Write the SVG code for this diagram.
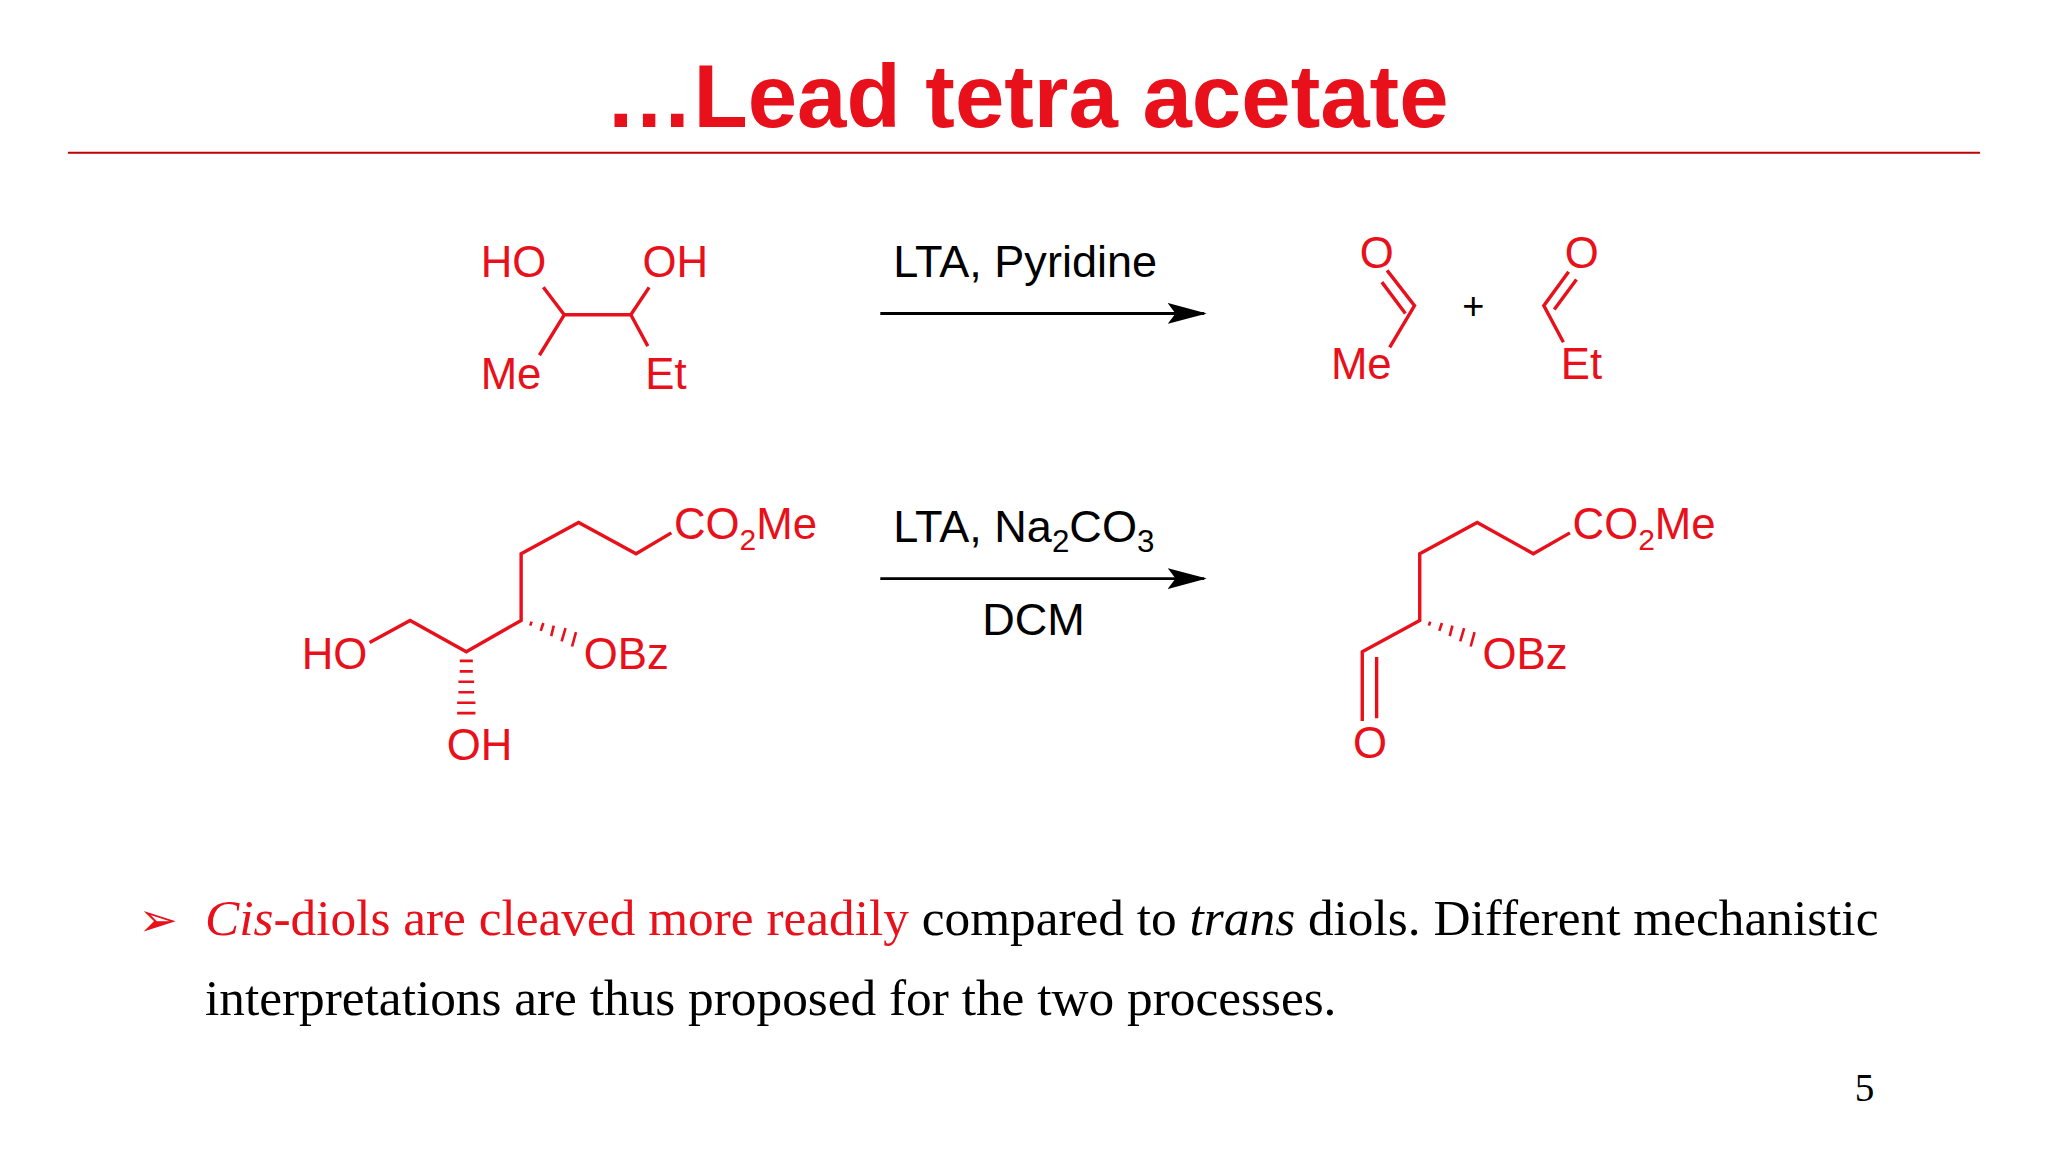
<svg xmlns="http://www.w3.org/2000/svg" width="2048" height="1152" viewBox="0 0 2048 1152">
<style>
.m{font-family:"Liberation Sans",Arial,sans-serif;font-size:33.5px;fill:#e8101a}
.k{font-family:"Liberation Sans",Arial,sans-serif;font-size:34.5px;fill:#000}
.b{stroke:#e8101a;stroke-width:2.6;fill:none}
.t{font-family:"Liberation Serif","Times New Roman",serif;font-size:39.3px}
</style>
<defs><marker id="ah" viewBox="0 0 30 16" refX="28" refY="8" markerWidth="30" markerHeight="16" markerUnits="userSpaceOnUse" orient="auto"><path d="M0,0 L30,8 L0,16 L6,8 z" fill="#000"/></marker></defs>
<rect width="2048" height="1152" fill="#fff"/>
<g transform="scale(1.3061)">
<g id="title"><text x="786" y="97" text-anchor="middle" font-family="Liberation Sans,Arial,sans-serif" font-weight="bold" font-size="68" fill="#e8101a">…Lead tetra acetate</text>
<line x1="52" y1="117" x2="1516" y2="117" stroke="#c00000" stroke-width="1.6"/></g>
<g id="diol1">
<text class="m" x="368" y="212">HO</text><text class="m" x="492" y="212">OH</text>
<text class="m" x="368" y="298">Me</text><text class="m" x="494" y="298">Et</text>
<path class="b" d="M416,220 L432,241 L483,241 L497,220 M432,241 L413,272 M483,241 L496,265"/>
</g>
<g id="prod1">
<text class="m" x="1041" y="205">O</text><text class="m" x="1019" y="290">Me</text>
<path class="b" d="M1062,207 L1083,234 L1064,266 M1058,216 L1076,240"/>
<text x="1128" y="244" text-anchor="middle" font-family="Liberation Sans,Arial,sans-serif" font-size="29" fill="#000">+</text>
<text class="m" x="1198" y="205">O</text><text class="m" x="1195" y="290">Et</text>
<path class="b" d="M1201,208 L1182,234 L1197,262 M1207,214 L1190,237"/>
</g>
<g id="diol2">
<text class="m" x="231" y="512">HO</text><text class="m" x="342" y="582">OH</text>
<text class="m" x="516" y="413">CO<tspan font-size="23" dy="8">2</tspan><tspan dy="-8">Me</tspan></text>
<text class="m" x="447" y="512">OBz</text>
<path class="b" d="M283,492 L314,475 L357,499 L399,475 L399,424 L443,400 L487,424 L514,408"/>
<path stroke="#e8101a" stroke-width="2" d="M352,506h10M352,514h10M351,522h12M351,530h12M350,538h14M350,546h14"/>
<path stroke="#e8101a" stroke-width="2" d="M406,479l1,-3M414,483l2,-6M422,487l2,-8M430,491l3,-10M438,495l3,-11"/>
</g>
<g id="prod2">
<text class="m" x="1204" y="413">CO<tspan font-size="23" dy="8">2</tspan><tspan dy="-8">Me</tspan></text>
<text class="m" x="1135" y="512">OBz</text><text class="m" x="1036" y="580">O</text>
<path class="b" d="M1202,408 L1174,424 L1131,400 L1087,424 L1087,475 L1043,499 L1043,552 M1054,503 L1054,550"/>
<path stroke="#e8101a" stroke-width="2" d="M1094,479l1,-3M1102,483l2,-6M1110,487l2,-8M1118,491l3,-10M1126,495l3,-11"/>
</g>
<g id="connectors">
<line x1="674" y1="240" x2="922" y2="240" stroke="#000" stroke-width="2.2" marker-end="url(#ah)"/>
<line x1="674" y1="443" x2="922" y2="443" stroke="#000" stroke-width="2.2" marker-end="url(#ah)"/>
</g>
<text class="k" x="684" y="212">LTA, Pyridine</text>
<text class="k" x="684" y="415">LTA, Na<tspan font-size="24" dy="8">2</tspan><tspan dy="-8">CO</tspan><tspan font-size="24" dy="8">3</tspan></text>
<text class="k" x="752" y="486">DCM</text>
<g id="bullet">
<text x="106" y="717" font-family="DejaVu Sans,sans-serif" font-size="36" font-weight="bold" fill="#e8101a">➢</text>
<text class="t" x="157" y="716"><tspan fill="#e8101a" font-style="italic">Cis</tspan><tspan fill="#e8101a">-diols are cleaved more readily</tspan> compared to <tspan font-style="italic">trans</tspan> diols. Different mechanistic</text>
<text class="t" x="157" y="777">interpretations are thus proposed for the two processes.</text>
<text x="1420" y="843" font-family="Liberation Serif,serif" font-size="30">5</text>
</g>
</g>
</svg>
